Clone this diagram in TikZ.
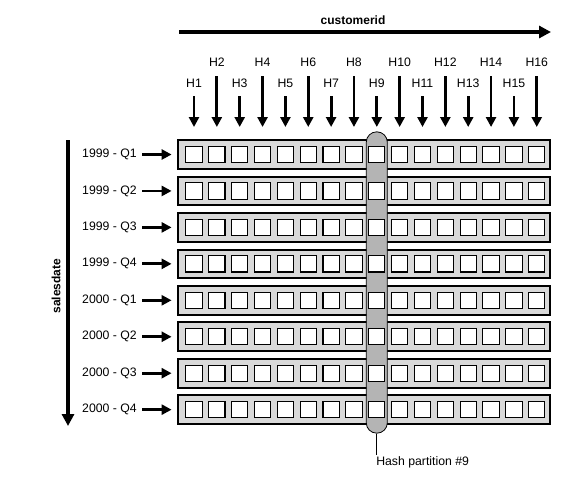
\documentclass[tikz,border=0pt]{standalone}
\usepackage{fontspec}
\setmainfont{Liberation Sans}
\usetikzlibrary{arrows.meta,positioning}

\begin{document}
\begin{tikzpicture}[x=0.75pt,y=-0.75pt,font=\fontsize{9.2}{11}\selectfont]
  \definecolor{rowfill}{HTML}{D9D9D9}
  \definecolor{hashfill}{HTML}{B4B4B4}
  \tikzset{
    bigarrow/.style={line width=2.1pt,-{Triangle[length=7.5pt,width=7.5pt]}},
    rowbox/.style={draw,line width=1.5pt,fill=rowfill,minimum width=279.5pt,
      minimum height=21.5pt,inner sep=0pt},
    cellbox/.style={draw,line width=0.8pt,fill=white,minimum size=12.2pt,inner sep=0pt},
    hashbox/.style={draw,line width=0.6pt,fill=hashfill,rounded corners=7.8pt,
      minimum width=15.8pt,minimum height=226pt,inner sep=0pt}
  }
  \path[use as bounding box] (0,0) rectangle (588,483);
  % axis arrows
  \coordinate (cs) at (179,32);
  \coordinate (ce) at (551,32);
  \draw[line width=2.3pt,-{Triangle[length=9pt,width=9pt]}] (cs) -- (ce);
  \node[font=\bfseries\fontsize{9}{11}\selectfont] (cust) at (353,20) {customerid};
  \coordinate (ss) at (68,140);
  \coordinate (se) at (68,426);
  \draw[line width=2.3pt,-{Triangle[length=9pt,width=9pt]}] (ss) -- (se);
  \node[font=\bfseries\fontsize{9}{11}\selectfont,rotate=90] (sales) at (56,286) {salesdate};
  % rows of the table
  \foreach \r/\q in {1/1999 - Q1,2/1999 - Q2,3/1999 - Q3,4/1999 - Q4,
                     5/2000 - Q1,6/2000 - Q2,7/2000 - Q3,8/2000 - Q4}{
    \node[rowbox] (row\r) at (364,154.5+36.45*\r-36.45) {};
    \node[anchor=east,inner sep=0pt] (lab\r) at (137,154.5+36.45*\r-36.45) {\q};
    \draw[bigarrow,shorten <=3.8pt,shorten >=3.8pt] (lab\r.east) -- (row\r.west);
  }
  % hash partition
  \node[hashbox] (hash) at (376.8,282.5) {};
  \coordinate (hend) at (376.8,455);
  \draw[line width=0.6pt] (hash.south) -- (hend);
  \node[anchor=north west,inner sep=0pt] (hlab) at (376,456) {Hash partition \#9};
  % cells and hash keys
  \foreach \c in {1,...,16}{
    \foreach \r in {1,...,8}{
      \node[cellbox] (cell\r-\c) at (194+22.85*\c-22.85,154.5+36.45*\r-36.45) {};
    }
    \ifodd\c
      \coordinate (ht\c) at (194+22.85*\c-22.85,96);
      \node (h\c) at (194+22.85*\c-22.85,83) {H\c};
    \else
      \coordinate (ht\c) at (194+22.85*\c-22.85,76);
      \node (h\c) at (194+22.85*\c-22.85,62) {H\c};
    \fi
    \coordinate (hb\c) at (194+22.85*\c-22.85,127);
    \draw[bigarrow] (ht\c) -- (hb\c);
  }
\end{tikzpicture}
\end{document}
